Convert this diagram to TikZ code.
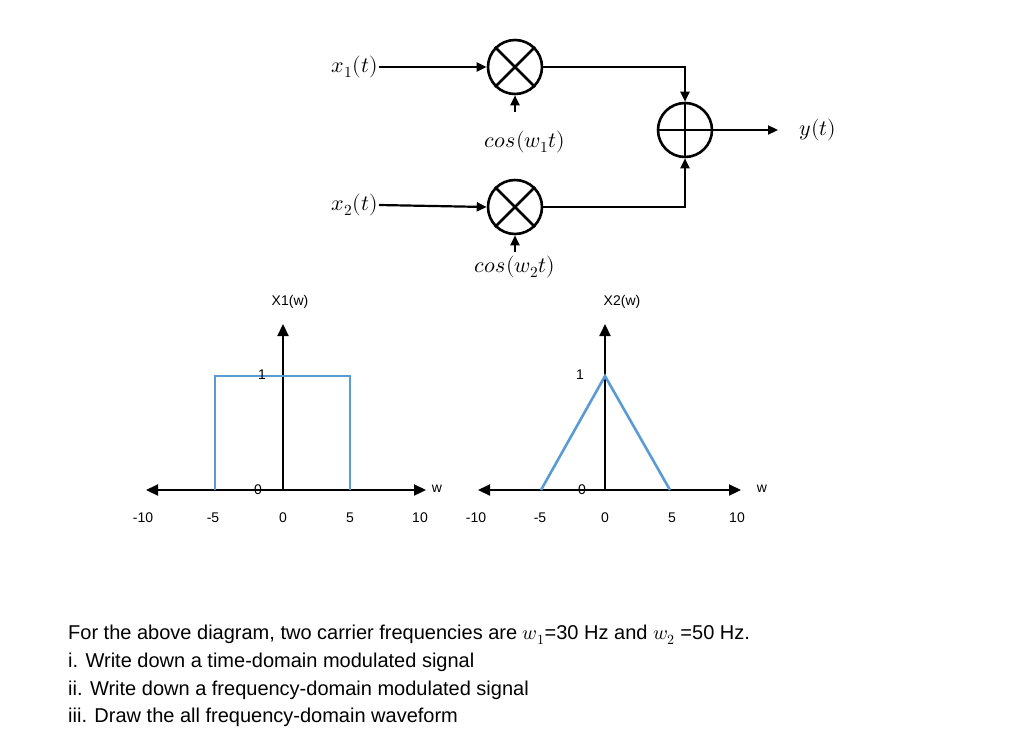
\documentclass[tikz,border=0pt]{standalone}
\usepackage{fontspec}
\setmainfont{Liberation Sans}
\usepackage{unicode-math}
\setmathfont{Latin Modern Math}
\usetikzlibrary{arrows.meta}
\begin{document}
\begin{tikzpicture}[x=1pt,y=-1pt,
  blk/.style={draw,circle,line width=2.6pt,minimum size=54pt,inner sep=0pt},
  wire/.style={line width=2.2pt},
  arr/.style={wire,-{Triangle[length=10pt,width=9pt]}},
  lab/.style={font=\fontsize{22}{26}\selectfont},
  tick/.style={font=\fontsize{14}{16}\selectfont},
  sig/.style={draw={rgb,255:red,91;green,155;blue,213},line width=2.6pt},
  txt/.style={anchor=west,font=\fontsize{20}{24}\selectfont,inner sep=0pt}]
\useasboundingbox (0,0) rectangle (1024,752);
\node[blk] (m1) at (515,67) {};
\draw[line width=2.6pt] (m1.45)--(m1.225) (m1.135)--(m1.315);
\node[blk] (m2) at (515,207) {};
\draw[line width=2.6pt] (m2.45)--(m2.225) (m2.135)--(m2.315);
\node[blk] (s) at (685,130) {};
\draw[line width=2.6pt] (s.north)--(s.south) (s.west)--(s.east);
\node[lab,anchor=east,inner sep=1pt] (x1) at (379,67) {$x_1(t)$};
\node[lab,anchor=east,inner sep=1pt] (x2) at (379,205) {$x_2(t)$};
\node[lab] (c1) at (525,142) {$cos(w_1t)$};
\node[lab] (c2) at (515,267) {$cos(w_2t)$};
\node[lab] (y) at (818,130) {$y(t)$};
\coordinate (y0) at (778,130);
\draw[arr] (x1.east) -- (m1.west);
\draw[arr] (x2.east) -- (m2.west);
\draw[arr] (515,112) -- (m1.south);
\draw[arr] (515,252) -- (m2.south);
\draw[arr] (m1.east) -| (s.north);
\draw[arr] (m2.east) -| (s.south);
\draw[arr] (s.east) -- (y0);
% left plot
\draw[wire,{Triangle[length=12pt,width=11pt]}-{Triangle[length=12pt,width=11pt]}] (146,490) -- (426,490);
\draw[wire,-{Triangle[length=12pt,width=11pt]}] (283,490) -- (283,324);
\draw[sig] (215,490) -- (215,376) -- (350,376) -- (350,490);
\node[tick] at (290,302) {X1(w)};
\node[tick] at (262,375) {1};
\node[tick] at (258,490) {0};
\node[tick] at (437,489) {w};
\foreach \v/\p in {-10/143,-5/213,0/283,5/350,10/420} \node[tick] at (\p,518) {\v};
% right plot
\draw[wire,{Triangle[length=12pt,width=11pt]}-{Triangle[length=12pt,width=11pt]}] (478,490) -- (741,490);
\draw[wire,-{Triangle[length=12pt,width=11pt]}] (605,490) -- (605,324);
\draw[sig] (541,490) -- (605,376) -- (670,490);
\node[tick] at (622,302) {X2(w)};
\node[tick] at (580,375) {1};
\node[tick] at (582,490) {0};
\node[tick] at (762,489) {w};
\foreach \v/\p in {-10/476,-5/540,0/605,5/672,10/737} \node[tick] at (\p,518) {\v};
\node[txt] at (68,635) {For the above diagram, two carrier frequencies are $w_1$=30 Hz and $w_2$ =50 Hz.};
\node[txt] at (68,662) {i. Write down a time-domain modulated signal};
\node[txt] at (68,690) {ii. Write down a frequency-domain modulated signal};
\node[txt] at (68,717) {iii. Draw the all frequency-domain waveform};
\end{tikzpicture}
\end{document}
